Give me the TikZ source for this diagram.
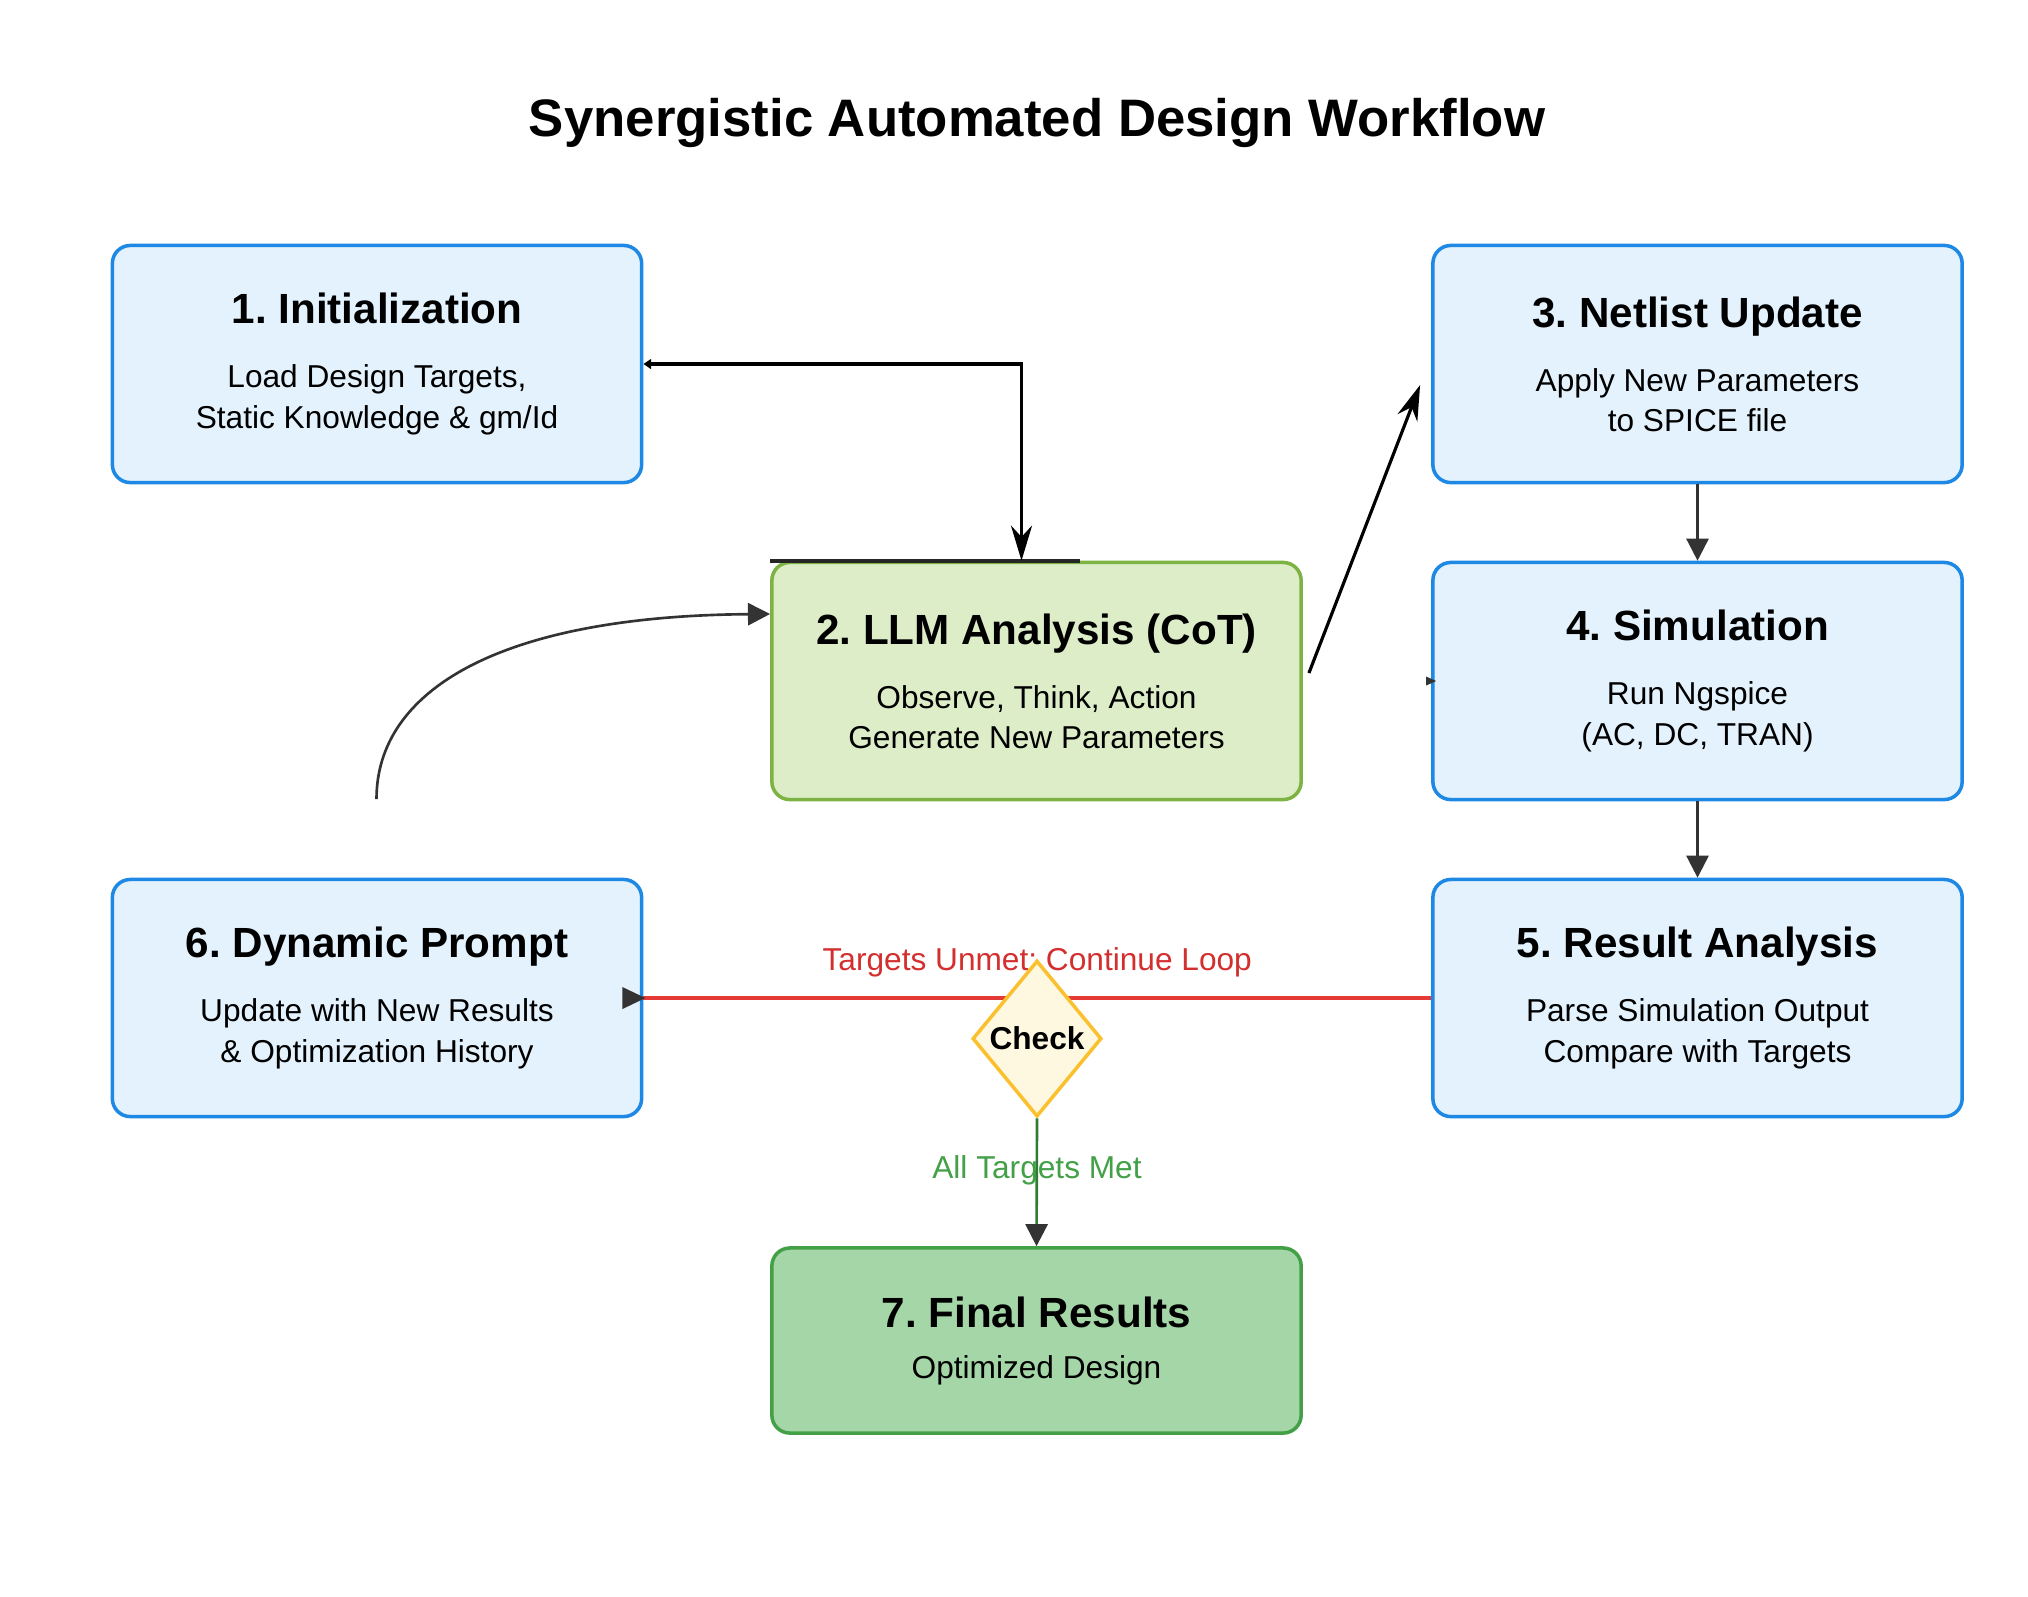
\documentclass[tikz,border=0pt]{standalone}
\usepackage{fontspec}
\setmainfont{Liberation Sans}
\frenchspacing
\usetikzlibrary{shapes.geometric,arrows.meta,calc}
\definecolor{boxblue}{HTML}{E3F2FD}
\definecolor{lineblue}{HTML}{1E88E5}
\definecolor{boxlime}{HTML}{DCEDC8}
\definecolor{linelime}{HTML}{7CB342}
\definecolor{boxgreen}{HTML}{A5D6A7}
\definecolor{linegreen}{HTML}{43A047}
\definecolor{boxcream}{HTML}{FFF8E1}
\definecolor{lineamber}{HTML}{FBC02D}
\definecolor{loopred}{HTML}{E53935}
\definecolor{labelred}{HTML}{D32F2F}
\definecolor{metgreen}{HTML}{2E7D32}
\definecolor{labelgreen}{HTML}{43A047}
\definecolor{tipgray}{HTML}{333333}
\newcommand{\boxhead}[1]{{\fontsize{12}{14}\selectfont\bfseries #1}}
\tikzset{
  stepbox/.style={rectangle,rounded corners=0.18cm,line width=1pt,minimum width=5.29cm,
    minimum height=2.37cm,align=center,font=\fontsize{9}{11.4}\selectfont},
  bluebox/.style={stepbox,draw=lineblue,fill=boxblue},
  limebox/.style={stepbox,draw=linelime,fill=boxlime},
  greenbox/.style={stepbox,draw=linegreen,fill=boxgreen,minimum height=1.85cm},
  checkbox/.style={diamond,draw=lineamber,fill=boxcream,line width=1pt,inner sep=0pt,
    minimum width=1.29cm,minimum height=1.56cm,font=\fontsize{9}{11}\selectfont\bfseries},
  bigarrow/.style={-{Stealth[length=10pt,width=6pt]},line width=0.9pt,black},
  smallarrow/.style={-{Triangle[length=6.3pt,width=6.3pt,color=tipgray]},line width=0.75pt,tipgray},
  edgelabel/.style={font=\fontsize{9}{11}\selectfont}
}
\begin{document}
\begin{tikzpicture}[x=0.01cm,y=-0.01cm]
\useasboundingbox (0,0) rectangle (2028,1596);
\node (title) at (1037,123) {\fontsize{15}{18}\selectfont\bfseries Synergistic Automated Design Workflow};
\node[bluebox] (B1) at (377,364) {\boxhead{1. Initialization}\\[6.8pt]Load Design Targets,\\Static Knowledge \& gm/Id};
\node[limebox] (B2) at (1036.5,681) {\boxhead{2. LLM Analysis (CoT)}\\[6.8pt]Observe, Think, Action\\Generate New Parameters};
\node[bluebox] (B3) at (1697.5,364) {\boxhead{3. Netlist Update}\\[6.8pt]Apply New Parameters\\to SPICE file};
\node[bluebox] (B4) at (1697.5,681) {\boxhead{4. Simulation}\\[6.8pt]Run Ngspice\\(AC, DC, TRAN)};
\node[bluebox] (B5) at (1697.5,998) {\boxhead{5. Result Analysis}\\[6.8pt]Parse Simulation Output\\Compare with Targets};
\node[bluebox] (B6) at (377,998) {\boxhead{6. Dynamic Prompt}\\[6.8pt]Update with New Results\\\& Optimization History};
\node[greenbox] (B7) at (1036.5,1340.5) {\boxhead{7. Final Results}\\[3.1pt]Optimized Design};
\coordinate (C6) at (376.5,799);
\draw[black!85,line width=1.1pt] (B2.north west)--([xshift=3.1cm]B2.north west);
\draw[bigarrow,{Triangle[length=2.2pt,width=2.8pt]}-{Stealth[length=10pt,width=6pt]}] (B1.east) -| ([xshift=-0.15cm]B2.north);
\draw[bigarrow] ([shift={(6,-8)}]B2.east)--([shift={(-11,21)}]B3.west);
\fill[tipgray] ($(B4.west)+(-5,-4.5)$)--($(B4.west)+(5,0)$)--($(B4.west)+(-5,4.5)$)--cycle;
\draw[smallarrow] (B3.south)--(B4.north);
\draw[smallarrow] (B4.south)--(B5.north);
\draw[smallarrow] (C6) .. controls (376.5,690) and (500,616) .. (B2.west|-0,614);
\draw[loopred,line width=1pt] (B5.west)--node[edgelabel,labelred,above=2pt]{Targets Unmet: Continue Loop}(B6.east);
\fill[tipgray] ($(B6.east)+(-21,-11)$)--($(B6.east)+(2,0)$)--($(B6.east)+(-21,11)$)--cycle;
\node[checkbox] (chk) at (1037,1038.6) {Check};
\node[edgelabel,labelgreen] (met) at (1037,1170.5) {All Targets Met};
\draw[smallarrow,metgreen] (chk.south)--(B7.north);
\end{tikzpicture}
\end{document}
